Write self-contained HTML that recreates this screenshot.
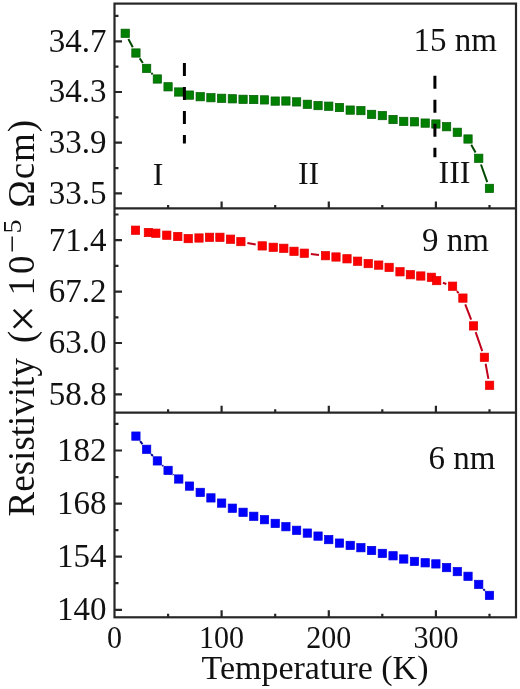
<!DOCTYPE html><html><head><meta charset="utf-8"><style>html,body{margin:0;padding:0;background:#fff;}svg{display:block;}text{font-family:"Liberation Serif","Times New Roman",serif;fill:#111;}</style></head><body>
<svg width="520" height="689" viewBox="0 0 520 689">
<rect x="0" y="0" width="520" height="689" fill="#fff"/>
<path d="M128.37,39.10 L132.77,47.20 M139.70,58.42 L142.87,62.98 M151.33,73.04 L152.66,74.36 M471.23,144.77 L475.54,152.53 M480.96,164.52 L487.24,182.18" fill="none" stroke="#004800" stroke-width="2.0" stroke-linecap="butt"/>
<rect x="121.06" y="29.15" width="8.3" height="8.3" fill="#008000" stroke="#005c00" stroke-width="0.7"/>
<rect x="131.78" y="48.85" width="8.3" height="8.3" fill="#008000" stroke="#005c00" stroke-width="0.7"/>
<rect x="142.49" y="64.25" width="8.3" height="8.3" fill="#008000" stroke="#005c00" stroke-width="0.7"/>
<rect x="153.20" y="74.85" width="8.3" height="8.3" fill="#008000" stroke="#005c00" stroke-width="0.7"/>
<rect x="163.91" y="82.65" width="8.3" height="8.3" fill="#008000" stroke="#005c00" stroke-width="0.7"/>
<rect x="174.63" y="87.85" width="8.3" height="8.3" fill="#008000" stroke="#005c00" stroke-width="0.7"/>
<rect x="185.34" y="90.95" width="8.3" height="8.3" fill="#008000" stroke="#005c00" stroke-width="0.7"/>
<rect x="196.05" y="92.55" width="8.3" height="8.3" fill="#008000" stroke="#005c00" stroke-width="0.7"/>
<rect x="206.77" y="93.55" width="8.3" height="8.3" fill="#008000" stroke="#005c00" stroke-width="0.7"/>
<rect x="217.48" y="94.15" width="8.3" height="8.3" fill="#008000" stroke="#005c00" stroke-width="0.7"/>
<rect x="228.19" y="94.65" width="8.3" height="8.3" fill="#008000" stroke="#005c00" stroke-width="0.7"/>
<rect x="238.91" y="95.15" width="8.3" height="8.3" fill="#008000" stroke="#005c00" stroke-width="0.7"/>
<rect x="249.62" y="95.35" width="8.3" height="8.3" fill="#008000" stroke="#005c00" stroke-width="0.7"/>
<rect x="260.33" y="95.75" width="8.3" height="8.3" fill="#008000" stroke="#005c00" stroke-width="0.7"/>
<rect x="271.05" y="96.95" width="8.3" height="8.3" fill="#008000" stroke="#005c00" stroke-width="0.7"/>
<rect x="281.76" y="96.85" width="8.3" height="8.3" fill="#008000" stroke="#005c00" stroke-width="0.7"/>
<rect x="292.47" y="97.75" width="8.3" height="8.3" fill="#008000" stroke="#005c00" stroke-width="0.7"/>
<rect x="303.18" y="100.15" width="8.3" height="8.3" fill="#008000" stroke="#005c00" stroke-width="0.7"/>
<rect x="313.90" y="101.45" width="8.3" height="8.3" fill="#008000" stroke="#005c00" stroke-width="0.7"/>
<rect x="324.61" y="102.05" width="8.3" height="8.3" fill="#008000" stroke="#005c00" stroke-width="0.7"/>
<rect x="335.32" y="103.35" width="8.3" height="8.3" fill="#008000" stroke="#005c00" stroke-width="0.7"/>
<rect x="346.04" y="105.95" width="8.3" height="8.3" fill="#008000" stroke="#005c00" stroke-width="0.7"/>
<rect x="356.75" y="106.45" width="8.3" height="8.3" fill="#008000" stroke="#005c00" stroke-width="0.7"/>
<rect x="367.46" y="110.25" width="8.3" height="8.3" fill="#008000" stroke="#005c00" stroke-width="0.7"/>
<rect x="378.18" y="111.45" width="8.3" height="8.3" fill="#008000" stroke="#005c00" stroke-width="0.7"/>
<rect x="388.89" y="115.35" width="8.3" height="8.3" fill="#008000" stroke="#005c00" stroke-width="0.7"/>
<rect x="399.60" y="117.25" width="8.3" height="8.3" fill="#008000" stroke="#005c00" stroke-width="0.7"/>
<rect x="410.31" y="117.65" width="8.3" height="8.3" fill="#008000" stroke="#005c00" stroke-width="0.7"/>
<rect x="421.03" y="118.95" width="8.3" height="8.3" fill="#008000" stroke="#005c00" stroke-width="0.7"/>
<rect x="431.74" y="119.85" width="8.3" height="8.3" fill="#008000" stroke="#005c00" stroke-width="0.7"/>
<rect x="442.45" y="122.55" width="8.3" height="8.3" fill="#008000" stroke="#005c00" stroke-width="0.7"/>
<rect x="453.17" y="128.15" width="8.3" height="8.3" fill="#008000" stroke="#005c00" stroke-width="0.7"/>
<rect x="463.88" y="134.85" width="8.3" height="8.3" fill="#008000" stroke="#005c00" stroke-width="0.7"/>
<rect x="474.59" y="154.15" width="8.3" height="8.3" fill="#008000" stroke="#005c00" stroke-width="0.7"/>
<rect x="485.31" y="184.25" width="8.3" height="8.3" fill="#008000" stroke="#005c00" stroke-width="0.7"/>
<path d="M247.37,242.91 L255.73,244.59 M310.85,253.97 L318.95,254.93 M442.93,282.79 L446.37,284.01 M456.92,291.19 L458.58,293.11 M465.25,304.27 L471.15,319.73 M475.66,332.14 L482.24,351.06 M485.61,363.79 L488.39,378.81" fill="none" stroke="#c0001a" stroke-width="2.0" stroke-linecap="butt"/>
<rect x="131.35" y="226.05" width="8.3" height="8.3" fill="#ff0000" stroke="#e00000" stroke-width="0.7"/>
<rect x="144.25" y="228.35" width="8.3" height="8.3" fill="#ff0000" stroke="#e00000" stroke-width="0.7"/>
<rect x="151.65" y="229.05" width="8.3" height="8.3" fill="#ff0000" stroke="#e00000" stroke-width="0.7"/>
<rect x="162.65" y="231.05" width="8.3" height="8.3" fill="#ff0000" stroke="#e00000" stroke-width="0.7"/>
<rect x="173.65" y="232.35" width="8.3" height="8.3" fill="#ff0000" stroke="#e00000" stroke-width="0.7"/>
<rect x="184.05" y="234.45" width="8.3" height="8.3" fill="#ff0000" stroke="#e00000" stroke-width="0.7"/>
<rect x="194.85" y="233.85" width="8.3" height="8.3" fill="#ff0000" stroke="#e00000" stroke-width="0.7"/>
<rect x="205.35" y="233.15" width="8.3" height="8.3" fill="#ff0000" stroke="#e00000" stroke-width="0.7"/>
<rect x="215.75" y="233.15" width="8.3" height="8.3" fill="#ff0000" stroke="#e00000" stroke-width="0.7"/>
<rect x="226.35" y="235.05" width="8.3" height="8.3" fill="#ff0000" stroke="#e00000" stroke-width="0.7"/>
<rect x="236.75" y="237.45" width="8.3" height="8.3" fill="#ff0000" stroke="#e00000" stroke-width="0.7"/>
<rect x="258.05" y="241.75" width="8.3" height="8.3" fill="#ff0000" stroke="#e00000" stroke-width="0.7"/>
<rect x="269.05" y="243.15" width="8.3" height="8.3" fill="#ff0000" stroke="#e00000" stroke-width="0.7"/>
<rect x="279.65" y="244.15" width="8.3" height="8.3" fill="#ff0000" stroke="#e00000" stroke-width="0.7"/>
<rect x="289.85" y="247.15" width="8.3" height="8.3" fill="#ff0000" stroke="#e00000" stroke-width="0.7"/>
<rect x="300.15" y="249.05" width="8.3" height="8.3" fill="#ff0000" stroke="#e00000" stroke-width="0.7"/>
<rect x="321.35" y="251.55" width="8.3" height="8.3" fill="#ff0000" stroke="#e00000" stroke-width="0.7"/>
<rect x="331.85" y="252.85" width="8.3" height="8.3" fill="#ff0000" stroke="#e00000" stroke-width="0.7"/>
<rect x="342.85" y="254.65" width="8.3" height="8.3" fill="#ff0000" stroke="#e00000" stroke-width="0.7"/>
<rect x="353.45" y="257.05" width="8.3" height="8.3" fill="#ff0000" stroke="#e00000" stroke-width="0.7"/>
<rect x="364.05" y="259.45" width="8.3" height="8.3" fill="#ff0000" stroke="#e00000" stroke-width="0.7"/>
<rect x="374.55" y="260.95" width="8.3" height="8.3" fill="#ff0000" stroke="#e00000" stroke-width="0.7"/>
<rect x="384.95" y="263.25" width="8.3" height="8.3" fill="#ff0000" stroke="#e00000" stroke-width="0.7"/>
<rect x="395.85" y="267.65" width="8.3" height="8.3" fill="#ff0000" stroke="#e00000" stroke-width="0.7"/>
<rect x="406.25" y="270.55" width="8.3" height="8.3" fill="#ff0000" stroke="#e00000" stroke-width="0.7"/>
<rect x="416.65" y="271.85" width="8.3" height="8.3" fill="#ff0000" stroke="#e00000" stroke-width="0.7"/>
<rect x="427.25" y="273.15" width="8.3" height="8.3" fill="#ff0000" stroke="#e00000" stroke-width="0.7"/>
<rect x="432.55" y="276.45" width="8.3" height="8.3" fill="#ff0000" stroke="#e00000" stroke-width="0.7"/>
<rect x="448.45" y="282.05" width="8.3" height="8.3" fill="#ff0000" stroke="#e00000" stroke-width="0.7"/>
<rect x="458.75" y="293.95" width="8.3" height="8.3" fill="#ff0000" stroke="#e00000" stroke-width="0.7"/>
<rect x="469.35" y="321.75" width="8.3" height="8.3" fill="#ff0000" stroke="#e00000" stroke-width="0.7"/>
<rect x="480.25" y="353.15" width="8.3" height="8.3" fill="#ff0000" stroke="#e00000" stroke-width="0.7"/>
<rect x="485.45" y="381.15" width="8.3" height="8.3" fill="#ff0000" stroke="#e00000" stroke-width="0.7"/>
<path d="M140.09,441.22 L142.48,444.18 M151.12,454.15 L152.87,456.05 M162.29,465.28 L163.13,466.02 M173.21,474.53 L173.63,474.87 M483.35,589.13 L484.85,590.67" fill="none" stroke="#000090" stroke-width="2.0" stroke-linecap="butt"/>
<rect x="131.78" y="431.95" width="8.3" height="8.3" fill="#0000ff" stroke="#0000dd" stroke-width="0.7"/>
<rect x="142.49" y="445.15" width="8.3" height="8.3" fill="#0000ff" stroke="#0000dd" stroke-width="0.7"/>
<rect x="153.20" y="456.75" width="8.3" height="8.3" fill="#0000ff" stroke="#0000dd" stroke-width="0.7"/>
<rect x="163.91" y="466.25" width="8.3" height="8.3" fill="#0000ff" stroke="#0000dd" stroke-width="0.7"/>
<rect x="174.63" y="474.85" width="8.3" height="8.3" fill="#0000ff" stroke="#0000dd" stroke-width="0.7"/>
<rect x="185.34" y="481.95" width="8.3" height="8.3" fill="#0000ff" stroke="#0000dd" stroke-width="0.7"/>
<rect x="196.05" y="488.25" width="8.3" height="8.3" fill="#0000ff" stroke="#0000dd" stroke-width="0.7"/>
<rect x="206.77" y="493.75" width="8.3" height="8.3" fill="#0000ff" stroke="#0000dd" stroke-width="0.7"/>
<rect x="217.48" y="498.95" width="8.3" height="8.3" fill="#0000ff" stroke="#0000dd" stroke-width="0.7"/>
<rect x="228.19" y="504.05" width="8.3" height="8.3" fill="#0000ff" stroke="#0000dd" stroke-width="0.7"/>
<rect x="238.91" y="508.15" width="8.3" height="8.3" fill="#0000ff" stroke="#0000dd" stroke-width="0.7"/>
<rect x="249.62" y="512.15" width="8.3" height="8.3" fill="#0000ff" stroke="#0000dd" stroke-width="0.7"/>
<rect x="260.33" y="515.55" width="8.3" height="8.3" fill="#0000ff" stroke="#0000dd" stroke-width="0.7"/>
<rect x="271.05" y="519.25" width="8.3" height="8.3" fill="#0000ff" stroke="#0000dd" stroke-width="0.7"/>
<rect x="281.76" y="522.55" width="8.3" height="8.3" fill="#0000ff" stroke="#0000dd" stroke-width="0.7"/>
<rect x="292.47" y="526.15" width="8.3" height="8.3" fill="#0000ff" stroke="#0000dd" stroke-width="0.7"/>
<rect x="303.18" y="528.95" width="8.3" height="8.3" fill="#0000ff" stroke="#0000dd" stroke-width="0.7"/>
<rect x="313.90" y="531.95" width="8.3" height="8.3" fill="#0000ff" stroke="#0000dd" stroke-width="0.7"/>
<rect x="324.61" y="535.45" width="8.3" height="8.3" fill="#0000ff" stroke="#0000dd" stroke-width="0.7"/>
<rect x="335.32" y="538.95" width="8.3" height="8.3" fill="#0000ff" stroke="#0000dd" stroke-width="0.7"/>
<rect x="346.04" y="541.25" width="8.3" height="8.3" fill="#0000ff" stroke="#0000dd" stroke-width="0.7"/>
<rect x="356.75" y="543.55" width="8.3" height="8.3" fill="#0000ff" stroke="#0000dd" stroke-width="0.7"/>
<rect x="367.46" y="546.35" width="8.3" height="8.3" fill="#0000ff" stroke="#0000dd" stroke-width="0.7"/>
<rect x="378.18" y="549.25" width="8.3" height="8.3" fill="#0000ff" stroke="#0000dd" stroke-width="0.7"/>
<rect x="388.89" y="551.65" width="8.3" height="8.3" fill="#0000ff" stroke="#0000dd" stroke-width="0.7"/>
<rect x="399.60" y="554.85" width="8.3" height="8.3" fill="#0000ff" stroke="#0000dd" stroke-width="0.7"/>
<rect x="410.31" y="557.25" width="8.3" height="8.3" fill="#0000ff" stroke="#0000dd" stroke-width="0.7"/>
<rect x="421.03" y="558.65" width="8.3" height="8.3" fill="#0000ff" stroke="#0000dd" stroke-width="0.7"/>
<rect x="431.74" y="559.75" width="8.3" height="8.3" fill="#0000ff" stroke="#0000dd" stroke-width="0.7"/>
<rect x="442.45" y="563.45" width="8.3" height="8.3" fill="#0000ff" stroke="#0000dd" stroke-width="0.7"/>
<rect x="453.17" y="567.45" width="8.3" height="8.3" fill="#0000ff" stroke="#0000dd" stroke-width="0.7"/>
<rect x="463.88" y="572.15" width="8.3" height="8.3" fill="#0000ff" stroke="#0000dd" stroke-width="0.7"/>
<rect x="474.59" y="580.25" width="8.3" height="8.3" fill="#0000ff" stroke="#0000dd" stroke-width="0.7"/>
<rect x="485.31" y="591.25" width="8.3" height="8.3" fill="#0000ff" stroke="#0000dd" stroke-width="0.7"/>
<line x1="184.4" y1="63" x2="184.4" y2="143.5" stroke="#000" stroke-width="3" stroke-dasharray="13 11"/>
<line x1="434.9" y1="75.8" x2="434.9" y2="157.2" stroke="#000" stroke-width="3" stroke-dasharray="13 11"/>
<rect x="114.5" y="3.6" width="401.5" height="613.6999999999999" fill="none" stroke="#262626" stroke-width="2.2"/>
<line x1="114.5" y1="208.4" x2="516.0" y2="208.4" stroke="#262626" stroke-width="2.2"/>
<line x1="114.5" y1="412.7" x2="516.0" y2="412.7" stroke="#262626" stroke-width="2.2"/>
<path d="M221.6,208.4 v-7 M328.8,208.4 v-7 M435.9,208.4 v-7 M168.1,208.4 v-3.5 M275.2,208.4 v-3.5 M382.3,208.4 v-3.5 M489.5,208.4 v-3.5 M221.6,412.7 v-7 M328.8,412.7 v-7 M435.9,412.7 v-7 M168.1,412.7 v-3.5 M275.2,412.7 v-3.5 M382.3,412.7 v-3.5 M489.5,412.7 v-3.5 M221.6,617.3 v-7 M328.8,617.3 v-7 M435.9,617.3 v-7 M168.1,617.3 v-3.5 M275.2,617.3 v-3.5 M382.3,617.3 v-3.5 M489.5,617.3 v-3.5 M114.5,41.3 h7.5 M114.5,92.0 h7.5 M114.5,142.7 h7.5 M114.5,193.4 h7.5 M114.5,66.7 h4 M114.5,168.0 h4 M114.5,168.1 h4 M114.5,15.9 h4 M114.5,117.3 h4 M114.5,240.2 h7.5 M114.5,291.6 h7.5 M114.5,343.0 h7.5 M114.5,394.4 h7.5 M114.5,368.7 h4 M114.5,265.9 h4 M114.5,317.3 h4 M114.5,214.5 h4 M114.5,450.5 h7.5 M114.5,503.6 h7.5 M114.5,556.7 h7.5 M114.5,609.8 h7.5 M114.5,583.2 h4 M114.5,423.9 h4 M114.5,530.1 h4 M114.5,530.2 h4 M114.5,477.1 h4" stroke="#262626" stroke-width="2.2" fill="none"/>
<text x="106.4" y="51.7" font-size="33" text-anchor="end">34.7</text>
<text x="106.4" y="102.4" font-size="33" text-anchor="end">34.3</text>
<text x="106.4" y="153.1" font-size="33" text-anchor="end">33.9</text>
<text x="106.4" y="203.8" font-size="33" text-anchor="end">33.5</text>
<text x="106.4" y="250.6" font-size="33" text-anchor="end">71.4</text>
<text x="106.4" y="302.0" font-size="33" text-anchor="end">67.2</text>
<text x="106.4" y="353.4" font-size="33" text-anchor="end">63.0</text>
<text x="106.4" y="404.8" font-size="33" text-anchor="end">58.8</text>
<text x="106.4" y="460.9" font-size="33" text-anchor="end">182</text>
<text x="106.4" y="514.0" font-size="33" text-anchor="end">168</text>
<text x="106.4" y="567.1" font-size="33" text-anchor="end">154</text>
<text x="106.4" y="620.2" font-size="33" text-anchor="end">140</text>
<text transform="translate(114.5,647.6) scale(1,1.08)" font-size="30" text-anchor="middle">0</text>
<text transform="translate(221.6,647.6) scale(1,1.08)" font-size="30" text-anchor="middle">100</text>
<text transform="translate(328.8,647.6) scale(1,1.08)" font-size="30" text-anchor="middle">200</text>
<text transform="translate(435.9,647.6) scale(1,1.08)" font-size="30" text-anchor="middle">300</text>
<text x="315" y="679" font-size="34" text-anchor="middle">Temperature (K)</text>
<text x="413.5" y="51.2" font-size="33">15 nm</text>
<text x="422" y="250.8" font-size="33">9 nm</text>
<text x="428.4" y="468.6" font-size="33">6 nm</text>
<text x="158.2" y="184.8" font-size="32" text-anchor="middle">I</text>
<text x="308.6" y="183.8" font-size="32" text-anchor="middle">II</text>
<text x="454.5" y="183.1" font-size="32" text-anchor="middle">III</text>
<g transform="translate(33.8,516.4) rotate(-90)" font-size="37">
<text x="0" y="0">Resistivity</text>
<text x="173.3" y="0">(</text>
<text x="184.2" y="5.6" font-size="48">×</text>
<text x="221" y="0" letter-spacing="3">10</text>
<text transform="translate(263.4,-11.4) scale(1.083,1)" font-family="Liberation Sans" font-size="30">−</text>
<text transform="translate(282.8,-12.9) scale(1.12,1)" font-family="Liberation Sans" font-size="25">5</text>
<text x="308.7" y="0" letter-spacing="0.9">Ωcm)</text>
</g>
</svg></body></html>
